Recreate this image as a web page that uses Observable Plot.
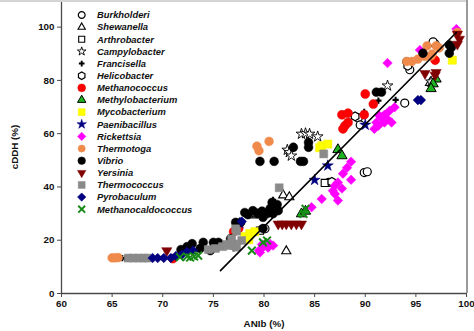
<!DOCTYPE html>
<html><head><meta charset="utf-8">
<script src="https://cdn.jsdelivr.net/npm/d3@7"></script>
<script src="https://cdn.jsdelivr.net/npm/@observablehq/plot@0.6"></script>
<style>
body{margin:0;background:#fff;}
#wrap{position:relative;width:474px;height:331px;overflow:hidden;font-family:"Liberation Sans",Arial,sans-serif;}
#topband{position:absolute;left:0;top:0;width:467px;height:2px;background:#d4d4d4;}
#rightline{position:absolute;left:466px;top:0;width:1.5px;height:293px;background:#9a9a9a;}
#legend{position:absolute;left:0;top:0;pointer-events:none;}
</style></head><body><div id="wrap"></div>
<script>
// ---- data (ANIb %, cDDH %) ----
const burkholderi = [[89.3,65.9],[89.5,63.3],[93.9,71.5],[94.1,87.0],[94.4,84.0],[96.9,93.7],[96.7,94.5],[86.4,41.7],[89.9,45.4],[90.2,45.7],[79.8,24.0],[80.1,24.3]];
const shewanella = [[81.9,36.9],[82.5,36.2],[78.9,29.4],[79.3,29.8],[82.2,15.9],[96.4,79.1]];
const arthrobacter = [[86.0,41.5],[79.6,23.6]];
const campylobacter = [[83.7,59.9],[84.1,60.1],[84.5,59.9],[85.3,58.9],[82.3,53.9],[82.5,53.0],[82.7,51.7],[92.2,78.0],[96.5,79.5]];
const francisella = [[91.3,72.4],[93.0,72.7],[89.9,68.2],[66.0,13.3],[66.3,13.1],[80.9,35.2],[77.0,16.9]];
const helicobacter = [[89.0,66.5],[94.2,85.5],[86.7,41.9]];
const methanococcus = [[90.0,74.9],[90.8,71.1],[87.7,67.1],[88.3,67.7],[88.0,63.0],[88.3,64.2],[87.8,61.8],[89.9,67.1],[96.9,87.6],[77.5,24.4],[77.0,23.2],[71.0,13.1]];
const methylobacterium = [[97.0,80.5],[96.7,78.7],[96.5,76.9],[87.3,54.0],[87.7,51.7],[83.7,29.9],[84.1,30.9]];
const mycobacterium = [[85.7,55.5],[86.3,56.1],[85.5,54.7],[98.6,87.6],[78.1,21.4],[78.6,22.5],[79.1,23.2],[78.5,20.2]];
const paenibacillus = [[90.0,63.3],[86.3,48.0],[85.0,42.6],[77.6,26.4]];
const rickettsia = [[92.2,86.5],[95.4,91.4],[99.0,99.3],[92.9,69.9],[92.4,68.6],[91.9,67.1],[91.4,66.7],[92.2,65.5],[91.9,64.2],[91.6,66.1],[91.3,63.0],[90.9,61.8],[91.1,64.2],[92.6,64.2],[88.6,49.5],[88.2,47.2],[87.8,45.0],[88.6,42.7],[87.3,41.7],[87.7,39.4],[87.0,40.5],[86.8,38.6],[87.0,37.4],[87.3,34.9],[85.7,35.5],[84.7,32.4],[80.9,18.0],[80.6,18.6],[79.5,16.1],[79.6,15.4],[79.9,17.4],[80.4,17.2],[79.8,18.4]];
const thermotoga = [[79.3,55.3],[79.5,53.6],[80.5,57.1],[94.1,87.1],[94.6,87.1],[95.2,88.0],[95.9,89.0],[96.5,89.2],[96.1,93.0],[97.0,93.0],[96.6,89.9],[97.3,92.2],[99.1,98.0],[65.0,13.4],[65.3,13.4],[65.6,13.5]];
const vibrio = [[79.6,49.6],[81.0,49.6],[83.6,49.6],[83.9,49.6],[82.9,54.9],[84.4,56.7],[84.4,54.9],[91.1,75.6],[91.6,75.6],[95.7,90.2],[98.3,93.3],[98.5,92.4],[98.3,90.2],
  [71.8,16.5],[72.9,18.7],[74.0,19.2],[75.0,19.2],[75.5,19.2],[73.7,16.9],[74.7,16.1],[76.7,20.6],[72.4,17.6],[77.2,26.7],[77.7,26.7],[78.1,30.4],[78.9,31.1],[79.8,30.9],[80.6,31.9],[81.3,33.4],[80.8,34.2],[80.3,30.0],[79.9,28.6],[80.9,30.0],[81.4,31.1],[79.9,24.4],[78.4,29.6],[79.4,30.0]];
const yersinia = [[95.9,82.6],[97.0,83.0],[96.9,82.0],[99.1,97.4],[99.3,95.5],[99.1,93.6],[81.4,26.1],[81.8,26.1],[82.2,26.1],[82.7,26.1],[83.2,26.1],[83.7,26.1],[70.4,16.1]];
const thermococcus = [[85.9,52.4],[81.5,39.7],[77.2,24.3],[77.3,23.4],[77.8,19.9],[77.0,18.6],[76.8,20.5],[77.3,17.4],[76.7,18.0],[75.9,17.6],[75.2,16.9],[66.6,13.3],[67.1,13.3],[67.6,13.3],[68.1,13.3],[68.5,13.3],[74.5,16.5],[76.3,18.4]];
const pyrobaculum = [[95.2,72.6],[95.5,72.6],[77.8,27.0],[69.0,13.3],[69.5,13.3],[70.1,13.3],[70.8,13.3],[71.3,14.1],[71.9,14.6],[72.4,15.7],[73.0,16.1]];
const methanocaldococcus = [[78.8,16.1],[79.9,19.2],[80.3,19.9],[84.1,31.8],[83.9,29.9],[71.7,13.6],[72.4,13.9],[73.1,13.9],[73.5,14.2],[72.7,13.5]];

const species = ["Burkholderi","Shewanella","Arthrobacter","Campylobacter","Francisella","Helicobacter","Methanococcus","Methylobacterium","Mycobacterium","Paenibacillus","Rickettsia","Thermotoga","Vibrio","Yersinia","Thermococcus","Pyrobaculum","Methanocaldococcus"];
const seriesData = [burkholderi,shewanella,arthrobacter,campylobacter,francisella,helicobacter,methanococcus,methylobacterium,mycobacterium,paenibacillus,rickettsia,thermotoga,vibrio,yersinia,thermococcus,pyrobaculum,methanocaldococcus];

const fitX = [75.7, 99.0];
const fitY = [8.6, 98.0];
const xTicks = [60,65,70,75,80,85,90,95,100];
const yTicks = [0,20,40,60,80,100];

// ---- styles ----
const sqrt3 = Math.sqrt(3);
const triangleDown = {draw(ctx, size){const y=-Math.sqrt(size/(sqrt3*3));ctx.moveTo(0,-y*2);ctx.lineTo(-sqrt3*y,y);ctx.lineTo(sqrt3*y,y);ctx.closePath();}};
const hexagon = {draw(ctx, size){const rr=Math.sqrt(size/(3*sqrt3/2));ctx.moveTo(0,rr);for(let k=1;k<6;k++){const a=k*Math.PI/3;ctx.lineTo(rr*Math.sin(a),rr*Math.cos(a));}ctx.closePath();}};
const styles = [
  {symbol:d3.symbolCircle, fill:"white", stroke:"black", sw:1.2, r:4.0, lr:3.4},
  {symbol:d3.symbolTriangle, fill:"white", stroke:"black", sw:1.1, r:3.4, lr:2.7},
  {symbol:d3.symbolSquare, fill:"white", stroke:"black", sw:1.1, r:4.0, lr:3.4},
  {symbol:d3.symbolStar, fill:"white", stroke:"black", sw:0.9, r:3.4, lr:2.7},
  {symbol:d3.symbolCross, fill:"black", stroke:"none", sw:0, r:2.6, lr:2.4},
  {symbol:hexagon, fill:"white", stroke:"black", sw:1.2, r:4.0, lr:3.4},
  {symbol:d3.symbolCircle, fill:"#ff0000", stroke:"#e00000", sw:0.5, r:4.5, lr:3.9},
  {symbol:d3.symbolTriangle, fill:"#1fb41f", stroke:"black", sw:1.0, r:3.8, lr:3.1},
  {symbol:d3.symbolSquare, fill:"#ffff00", stroke:"#f0f000", sw:0.5, r:4.6, lr:3.9},
  {symbol:d3.symbolStar, fill:"#000080", stroke:"#000080", sw:0.5, r:3.5, lr:3.0},
  {symbol:d3.symbolDiamond2, fill:"#ff00ff", stroke:"#ff00ff", sw:0.5, r:4.3, lr:3.8},
  {symbol:d3.symbolCircle, fill:"#f08a4b", stroke:"#f08a4b", sw:0.5, r:4.4, lr:3.6},
  {symbol:d3.symbolCircle, fill:"black", stroke:"black", sw:0.5, r:4.4, lr:3.8},
  {symbol:triangleDown, fill:"#800000", stroke:"#800000", sw:0.5, r:3.8, lr:3.1},
  {symbol:d3.symbolSquare, fill:"#8a8a8a", stroke:"#8a8a8a", sw:0.5, r:4.5, lr:3.9},
  {symbol:d3.symbolDiamond2, fill:"#000080", stroke:"#000080", sw:0.5, r:4.3, lr:3.8},
  {symbol:d3.symbolTimes, fill:"none", stroke:"#188a18", sw:2.0, r:3.6, lr:3.2}
];

const pts = seriesData.map((arr, i) => arr.map(([x, y]) => ({x, y, species: species[i]})));
const fitRows = fitX.map((x, i) => ({x, y: fitY[i]}));

const marks = [
  Plot.ruleX([60], {stroke:"#4a4a4a", strokeWidth:1.3}),
  Plot.ruleY([0], {stroke:"#4a4a4a", strokeWidth:1.3}),
  Plot.axisY({ticks: yTicks, tickSize: 4, tickPadding: 3, stroke:"#4a4a4a", label: "cDDH (%)", labelAnchor: "center", labelArrow: "none", labelOffset: 50}),
  Plot.axisX({ticks: xTicks, tickSize: 4, tickPadding: 3, stroke:"#4a4a4a", label: "ANIb (%)", labelAnchor: "center", labelArrow: "none", labelOffset: 33}),
  ...pts.map((d, i) => Plot.dot(d, {x:"x", y:"y", symbol: styles[i].symbol, fill: styles[i].fill, stroke: styles[i].stroke, strokeWidth: styles[i].sw, r: styles[i].r})),
  Plot.line(fitRows, {x:"x", y:"y", stroke:"black", strokeWidth:1.6})
];

const chart = Plot.plot({
  width: 474, height: 331,
  marginLeft: 61, marginRight: 8, marginTop: 0, marginBottom: 38,
  x: {domain: [60, 100]},
  y: {domain: [0, 110]},
  style: {fontFamily: '"Liberation Sans", Arial, sans-serif', fontSize: "9.8px", fontWeight: "bold", color: "#111", background: "white", overflow: "visible"},
  marks
});
const wrap = document.getElementById("wrap");
wrap.appendChild(chart);
const tb = document.createElement("div"); tb.id = "topband"; wrap.appendChild(tb);
const rl = document.createElement("div"); rl.id = "rightline"; wrap.appendChild(rl);

// ---- legend (overlay) ----
const lg = d3.select(wrap).append("svg").attr("id","legend").attr("width",474).attr("height",331);
species.forEach((name, i) => {
  const s = styles[i];
  const yy = 15 + i * 12.14;
  lg.append("path").attr("d", d3.symbol(s.symbol, s.lr * s.lr * Math.PI)())
    .attr("transform", `translate(81.7,${yy})`)
    .attr("fill", s.fill).attr("stroke", s.stroke).attr("stroke-width", s.sw);
  lg.append("text").attr("x", 97).attr("y", yy).attr("dy", "0.35em")
    .attr("font-family", '"Liberation Sans", Arial, sans-serif').attr("font-size", "9.4px")
    .attr("font-weight", "bold").attr("font-style", "italic").attr("fill", "#111").text(name);
});
</script>
</body></html>
